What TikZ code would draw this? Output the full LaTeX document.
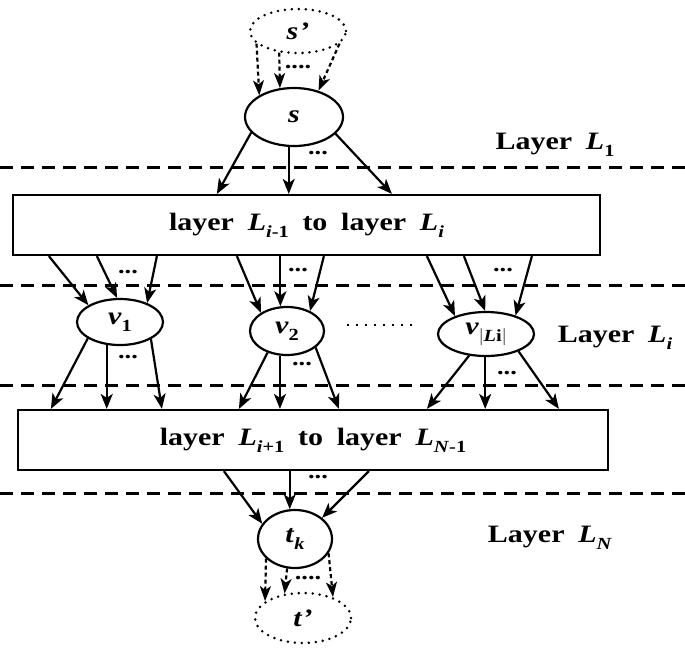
\documentclass[tikz,border=0pt]{standalone}
\usepackage{fontspec}
\setmainfont{Liberation Serif}[FakeStretch=1.2]
\usetikzlibrary{arrows.meta,shapes.geometric}
\newcommand{\sbx}[1]{\raisebox{-0.28em}{\fontsize{17}{17}\selectfont #1}}
\newcommand{\gap}{\hspace{0.55em}}
\begin{document}
\begin{tikzpicture}[x=1pt,y=-1pt,
  every node/.style={font=\fontsize{25}{29}\selectfont\bfseries},
  ell/.style={ellipse,draw,line width=2.2pt,inner sep=0pt},
  dell/.style={ellipse,draw,line width=2.8pt,inner sep=0pt,dash pattern=on 0pt off 7pt,line cap=round},
  boxn/.style={rectangle,draw,line width=2.2pt,inner sep=0pt},
  arr/.style={line width=2.2pt,-{Stealth[length=15pt,width=12pt,inset=4pt]}},
  darr/.style={line width=2.2pt,dash pattern=on 4pt off 3pt,-{Stealth[length=15pt,width=11pt,inset=4pt]}},
  hdash/.style={line width=3pt,dash pattern=on 13pt off 8pt},
  dots/.style={inner sep=0pt,font=\fontsize{22}{22}\selectfont\bfseries},
  lab/.style={anchor=base}]
\useasboundingbox (0,0) rectangle (685,651);

% layer separators
\draw[hdash] (0,167) -- (685,167);
\draw[hdash] (0,285) -- (685,285);
\draw[hdash] (0,385) -- (685,385);
\draw[hdash] (0,493) -- (685,493);

% nodes
\node[dell,minimum width=96,minimum height=44] (sp) at (298,31) {\textit{s\kern1pt'}};
\node[ell,minimum width=98,minimum height=58] (s) at (294,117) {\textit{s}};
\node[boxn,minimum width=587,minimum height=60] (b1) at (306.5,225)
  {layer\gap\textit{L}\sbx{\textit{i}-1}\gap to\gap layer\gap\textit{L}\sbx{\textit{i}}};
\node[ell,minimum width=86,minimum height=46] (v1) at (120,322) {\textit{v}\sbx{1}};
\node[ell,minimum width=74,minimum height=48] (v2) at (287,331) {\textit{v}\sbx{2}};
\node[ell,minimum width=96,minimum height=44] (vL) at (486,334) {\textit{v}\sbx{$|$\textit{L}i$|$}};
\node[boxn,minimum width=590,minimum height=60] (b2) at (313,440)
  {layer\gap\textit{L}\sbx{\textit{i}+1}\gap to\gap layer\gap\textit{L}\sbx{\textit{N}-1}};
\node[ell,minimum width=74,minimum height=58] (tk) at (295,539) {\textit{t}\sbx{\textit{k}}};
\node[dell,minimum width=96,minimum height=50] (tp) at (303,618) {\textit{t\kern1pt'}};

% layer labels
\node[lab] (l1) at (555,149) {Layer\gap\textit{L}\sbx{1}};
\node[lab] (li) at (615,342) {Layer\gap\textit{L}\sbx{\textit{i}}};
\node[lab] (ln) at (550,542) {Layer\gap\textit{L}\sbx{\textit{N}}};

% s' -> s
\draw[darr] (sp.197) -- (s.148);
\draw[darr] (sp.229) -- (s.116);
\draw[darr] (sp.343) -- (s.47);
\node[dots] (d9) at (298,67) {....};

% s -> box1
\draw[arr] (s.200) -- ([xshift=205pt]b1.north west);
\draw[arr] (s.260) -- (s.260 |- b1.north);
\draw[arr] (s.338) -- ([xshift=380pt]b1.north west);
\node[dots] (d1) at (318,153) {...};

% box1 -> v nodes
\draw[arr] ([xshift=37pt]b1.south west) -- (v1.152);
\draw[arr] ([xshift=85pt]b1.south west) -- (v1.97);
\draw[arr] ([xshift=145pt]b1.south west) -- (v1.35);
\node[dots] (d2) at (128,272) {...};
\draw[arr] ([xshift=225pt]b1.south west) -- (v2.145);
\draw[arr] (v2.105 |- b1.south) -- (v2.105);
\draw[arr] ([xshift=312pt]b1.south west) -- (v2.41);
\node[dots] (d3) at (298,270) {...};
\draw[arr] ([xshift=415pt]b1.south west) -- (vL.150);
\draw[arr] ([xshift=452pt]b1.south west) -- (vL.92);
\draw[arr] ([xshift=520pt]b1.south west) -- (vL.32);
\node[dots] (d4) at (503,270) {...};

% between v2 and vL
\draw[line width=1.5pt,dash pattern=on 1.5pt off 7.5pt] (347,325) -- (412,325);

% v nodes -> box2
\draw[arr] (v1.207) -- ([xshift=34pt]b2.north west);
\draw[arr] (v1.240) -- (v1.240 |- b2.north);
\draw[arr] (v1.331) -- ([xshift=145pt]b2.north west);
\node[dots] (d5) at (128,357) {...};
\draw[arr] (v2.228) -- ([xshift=222pt]b2.north west);
\draw[arr] (v2.254) -- (v2.254 |- b2.north);
\draw[arr] (v2.330) -- ([xshift=322pt]b2.north west);
\node[dots] (d6) at (302,364) {...};
\draw[arr] (vL.232) -- ([xshift=410pt]b2.north west);
\draw[arr] (vL.268) -- (vL.268 |- b2.north);
\draw[arr] (vL.332) -- ([xshift=542pt]b2.north west);
\node[dots] (d7) at (507,373) {...};

% box2 -> t_k
\draw[arr] ([xshift=207pt]b2.south west) -- (tk.155);
\draw[arr] (tk.100 |- b2.south) -- (tk.100);
\draw[arr] ([xshift=352pt]b2.south west) -- (tk.38);
\node[dots] (d8) at (318,477) {...};

% t_k -> t'
\draw[darr] (tk.214) -- (tp.156);
\draw[darr] (tk.255) -- (tp.127);
\draw[darr] (tk.337) -- (tp.35);
\node[dots] (d10) at (308,578) {....};
\end{tikzpicture}
\end{document}
